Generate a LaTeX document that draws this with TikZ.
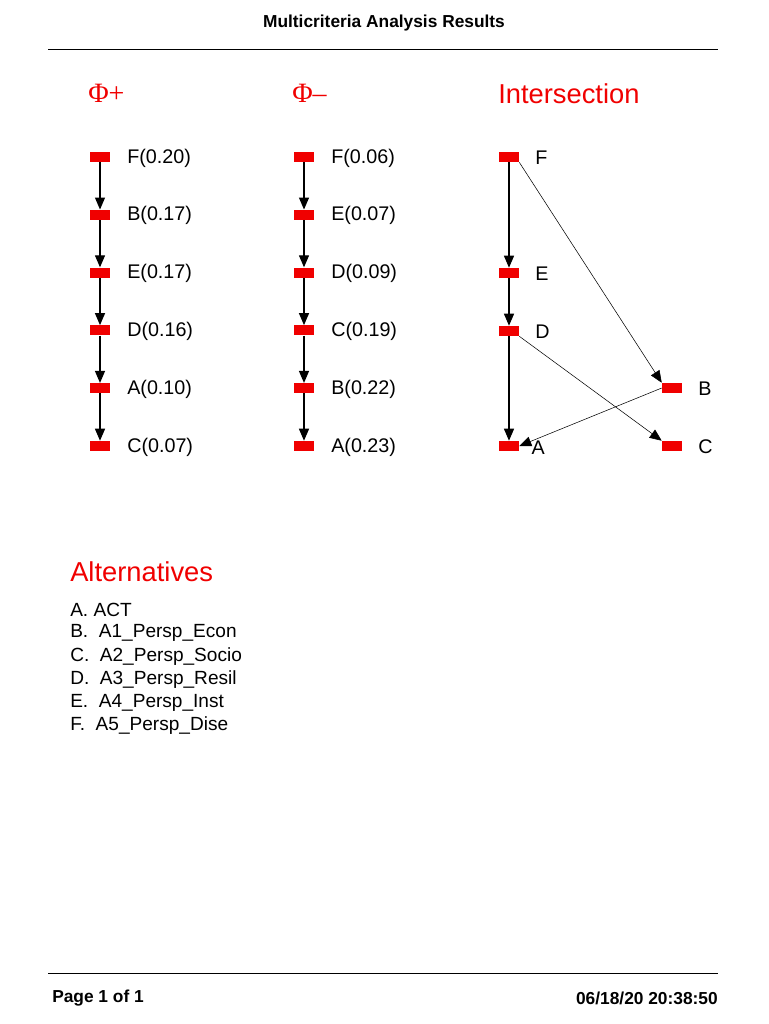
\documentclass[tikz,border=0pt]{standalone}
\usepackage{fontspec}
\setmainfont{Liberation Sans}
\newfontfamily\serifph{Liberation Serif}
\usetikzlibrary{arrows.meta}
\definecolor{rd}{RGB}{240,0,0}
\begin{document}
\begin{tikzpicture}[x=1pt,y=-1pt,
  box/.style={fill=rd,minimum width=15pt,minimum height=7.5pt,inner sep=0pt},
  lbl/.style={anchor=west,font=\fontsize{14.8}{15}\selectfont,inner sep=0pt},
  arr/.style={-{Triangle[length=9pt,width=7.5pt]},line width=0.9pt},
  tarr/.style={-{Triangle[length=9pt,width=7.5pt]},line width=0.4pt},
  ttl/.style={anchor=west,text=rd,inner sep=0pt,font=\fontsize{20.5}{21}\selectfont}]
\useasboundingbox (0,0) rectangle (576,768);
\node[font=\fontsize{13}{14}\selectfont\bfseries] (hdr) at (288,17) {Multicriteria Analysis Results};
\draw[line width=0.6pt] (36,37) coordinate (h1) -- (538.5,37) coordinate (h2);
\draw[line width=0.6pt] (36,729.75) coordinate (f1) -- (538.5,729.75) coordinate (f2);
\node[anchor=west,inner sep=0pt,font=\fontsize{13}{13}\selectfont\bfseries] (pg) at (39,748.5) {Page 1 of 1};
\node[anchor=east,inner sep=0pt,font=\fontsize{13}{13}\selectfont\bfseries] (dt) at (538.5,748.5) {06/18/20 20:38:50};
\node[ttl,font=\serifph\fontsize{21}{22}\selectfont] (t1) at (66,70) {Φ+};
\node[ttl,font=\serifph\fontsize{21}{22}\selectfont] (t2) at (219,70) {Φ–};
\node[ttl] (t3) at (373.5,70) {Intersection};
\foreach \n/\t [count=\i] in {F/0.20,B/0.17,E/0.17,D/0.16,A/0.10,C/0.07}{
  \node[box] (p\i) at (75,{117.75+(\i-1)*43.35}) {};
  \node[lbl] (pl\i) at (95.25,{118.5+(\i-1)*43.35}) {\n(\t)};
}
\foreach \i [evaluate=\i as \j using int(\i+1)] in {1,...,5}{\draw[arr] (p\i.south) -- (p\j.north);}
\foreach \n/\t [count=\i] in {F/0.06,E/0.07,D/0.09,C/0.19,B/0.22,A/0.23}{
  \node[box] (m\i) at (228,{117.75+(\i-1)*43.35}) {};
  \node[lbl] (ml\i) at (248.25,{118.5+(\i-1)*43.35}) {\n(\t)};
}
\foreach \i [evaluate=\i as \j using int(\i+1)] in {1,...,5}{\draw[arr] (m\i.south) -- (m\j.north);}
\node[box] (F) at (381.75,117.75) {}; \node[lbl] (Fl) at (401.25,118.5) {F};
\node[box] (E) at (381.75,204.75) {}; \node[lbl] (El) at (401.25,205.5) {E};
\node[box] (D) at (381.75,248.25) {}; \node[lbl] (Dl) at (401.25,249) {D};
\node[box] (A) at (381.75,334.5) {}; \node[lbl] (Al) at (398.5,336) {A};
\node[box] (B) at (504,291) {}; \node[lbl] (Bl) at (523.5,291.75) {B};
\node[box] (C) at (504,334.5) {}; \node[lbl] (Cl) at (523.5,335.25) {C};
\draw[arr] (F.south) -- (E.north);
\draw[arr] (E.south) -- (D.north);
\draw[arr] (D.south) -- (A.north);
\draw[tarr] (F.south east) -- (B.north west);
\draw[tarr] (D.south east) -- (C.north west);
\draw[tarr] (B.west) -- (A.east);
\node[ttl] (alt) at (52.5,428.5) {Alternatives};
\foreach \t [count=\i] in {A. ACT,B.\ \ A1\_Persp\_Econ,C.\ \ A2\_Persp\_Socio,D.\ \ A3\_Persp\_Resil,E.\ \ A4\_Persp\_Inst,F.\ \ A5\_Persp\_Dise}{
  \node[lbl,font=\fontsize{14.3}{15}\selectfont] (a\i) at (52.5,{457.5+(\i-1)*17.4}) {\t};
}
\end{tikzpicture}
\end{document}
